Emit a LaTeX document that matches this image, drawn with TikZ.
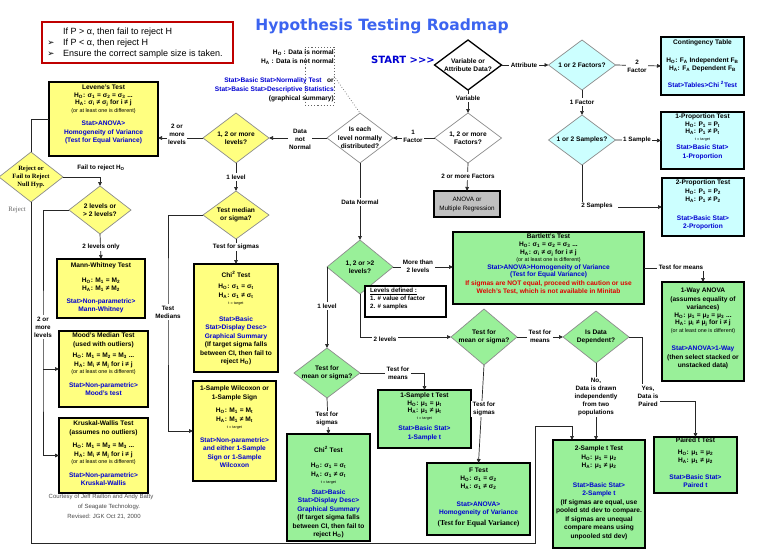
\documentclass[tikz,border=0pt]{standalone}
\usepackage{fontspec}
\setmainfont{Liberation Sans}
\newfontfamily\serifx{Liberation Serif}
\newfontfamily\djv{DejaVu Sans}
\usetikzlibrary{shapes.geometric,arrows.meta}
\definecolor{yel}{RGB}{255,255,128}
\definecolor{cya}{RGB}{204,255,255}
\definecolor{grn}{RGB}{153,240,153}
\definecolor{sblue}{RGB}{0,0,210}
\definecolor{tblue}{RGB}{60,100,240}
\definecolor{gbx}{RGB}{192,192,192}
\definecolor{rred}{RGB}{225,0,0}
\newcommand\stb[1]{\textcolor{sblue}{#1}}
\newcommand\rdt[1]{\textcolor{rred}{#1}}
\newcommand\smt[1]{{\fontsize{5.4}{6.5}\selectfont\mdseries #1}}
\newcommand\tgt{{\fontsize{3.8}{5}\selectfont\mdseries t = target}}
\newcommand\sbs[1]{\textsubscript{#1}}
\begin{document}
\begin{tikzpicture}[x=1pt,y=-1pt,
 txt/.style={font=\fontsize{6.6}{8.5}\selectfont\bfseries, align=center, inner sep=0pt},
 lab/.style={font=\fontsize{6.3}{8}\selectfont\bfseries, align=center, inner sep=1.5pt, fill=white},
 bx/.style={draw=black, line width=1.1pt, inner sep=0pt, outer sep=0pt, anchor=north west},
 dm/.style={diamond, draw=black!45, line width=0.7pt, inner sep=0pt, outer sep=0pt},
 conn/.style={draw=black!85, line width=0.7pt},
 arr/.style={conn, -{Triangle[length=4pt,width=3.6pt]}}]
\useasboundingbox (0,0) rectangle (768,549);
\fill[white] (0,0) rectangle (768,549);

% ---------- title and rule box ----------
\node[font=\djv\fontsize{15.5}{18}\selectfont\bfseries, text=tblue, inner sep=0pt] (title) at (382,26) {Hypothesis Testing Roadmap};
\node[bx, draw=rred!85!black, line width=1.5pt, minimum width=191, minimum height=41] (rule) at (42,22) {};
\node[anchor=west, inner sep=0pt, font=\fontsize{9}{10}\selectfont] (rule1) at (63,32) {If P > α, then fail to reject H};
\node[anchor=west, inner sep=0pt, font=\fontsize{9}{10}\selectfont] (rule2) at (63,43) {If P < α, then reject H};
\node[anchor=west, inner sep=0pt, font=\fontsize{9}{10}\selectfont] (rule3) at (63,54) {Ensure the correct sample size is taken.};
\node[inner sep=0pt, font=\djv\fontsize{8.5}{9}\selectfont] (bul2) at (51,43) {➢};
\node[inner sep=0pt, font=\djv\fontsize{8.5}{9}\selectfont] (bul3) at (51,54) {➢};
\node[inner sep=0pt, font=\djv\fontsize{10}{12}\selectfont\bfseries, text=sblue] (start) at (403,60) {START >>>};

% ---------- normality note ----------
\node[bx, draw=black!60, dotted, line width=0.6pt, minimum width=29, minimum height=58] (nbox) at (305,47) {};
\node[txt, align=right, anchor=north east, font=\fontsize{6.6}{9}\selectfont\bfseries] (nb1) at (334,50) {H\sbs{O} : Data is normal\\H\sbs{A} : Data is not normal};
\node[txt, align=right, anchor=north east, font=\fontsize{6.6}{9}\selectfont\bfseries] (nb2) at (334,78) {\stb{Stat>Basic Stat>Normality Test}~~ or\\\stb{Stat>Basic Stat>Descriptive Statistics}\\(graphical summary)};

% ---------- diamonds ----------
\node[dm, draw=black, line width=1.3pt, fill=white, minimum width=67, minimum height=50] (dvar) at (468,65) {};
\node[txt] (dvart) at (dvar) {Variable or\\Attribute Data?};
\node[dm, fill=cya, minimum width=67, minimum height=50] (d12f) at (582,65) {};
\node[txt] (d12ft) at (d12f) {1 or 2 Factors?};
\node[dm, fill=cya, minimum width=67, minimum height=50] (d12s) at (582,140) {};
\node[txt] (d12st) at (d12s) {1 or 2 Samples?};
\node[dm, fill=white, minimum width=67, minimum height=50] (dfac) at (468,138) {};
\node[txt] (dfact) at (dfac) {1, 2 or more\\Factors?};
\node[dm, fill=white, minimum width=66, minimum height=50] (dnorm) at (360,138) {};
\node[txt] (dnormt) at (dnorm) {Is each\\level normally\\distributed?};
\node[dm, fill=yel, minimum width=66, minimum height=50] (d12l) at (236,138) {};
\node[txt] (d12lt) at (d12l) {1, 2 or more\\levels?};
\node[dm, fill=yel, minimum width=64, minimum height=50] (drej) at (31,177) {};
\node[txt, font=\serifx\fontsize{6.5}{8}\selectfont\bfseries] (drejt) at (drej) {Reject or\\Fail to Reject\\Null Hyp.};
\node[dm, fill=yel, minimum width=62, minimum height=48] (d2l) at (100,210) {};
\node[txt] (d2lt) at (d2l) {2 levels or\\> 2 levels?};
\node[dm, fill=yel, minimum width=66, minimum height=48] (dtm) at (236,215) {};
\node[txt] (dtmt) at (dtm) {Test median\\or sigma?};
\node[dm, fill=grn, minimum width=66, minimum height=54] (dlv) at (360,267) {};
\node[txt] (dlvt) at (dlv) {1, 2 or >2\\levels?};
\node[dm, fill=grn, minimum width=66, minimum height=56] (dmsm) at (484,337) {};
\node[txt] (dmsmt) at (dmsm) {Test for\\mean or sigma?};
\node[dm, fill=grn, minimum width=66, minimum height=52] (ddep) at (596,337) {};
\node[txt] (ddept) at (ddep) {Is Data\\Dependent?};
\node[dm, fill=grn, minimum width=66, minimum height=50] (dmsl) at (327,373) {};
\node[txt] (dmslt) at (dmsl) {Test for\\mean or sigma?};

% ---------- boxes ----------
\node[bx, fill=cya, minimum width=83, minimum height=58] (cont) at (661,37) {};
\node[txt, anchor=north] (contt) at (702.5,40) {Contingency Table\\[9pt]H\sbs{O}: F\sbs{A} Independent F\sbs{B}\\H\sbs{A}: F\sbs{A} Dependent F\sbs{B}\\[8pt]\stb{Stat>Tables>Chi \textsuperscript{2}Test}};
\node[bx, fill=cya, minimum width=83, minimum height=57] (p1) at (661,112) {};
\node[txt, anchor=north] (p1t) at (702.5,114) {1-Proportion Test\\[-1pt]H\sbs{O}: P\sbs{1} = P\sbs{t}\\[-1pt]H\sbs{A}: P\sbs{1} ≠ P\sbs{t}\\[-2pt]\tgt\\[1pt]\stb{Stat>Basic Stat>}\\\stb{1-Proportion}};
\node[bx, fill=cya, minimum width=82, minimum height=58] (p2) at (662,178) {};
\node[txt, anchor=north] (p2t) at (703,180) {2-Proportion Test\\H\sbs{O}: P\sbs{1} = P\sbs{2}\\H\sbs{A}: P\sbs{1} ≠ P\sbs{2}\\[10pt]\stb{Stat>Basic Stat>}\\\stb{2-Proportion}};
\node[bx, fill=gbx, minimum width=66, minimum height=26] (anova) at (434,191) {};
\node[txt, font=\fontsize{6.3}{9}\selectfont] (anovat) at (anova) {ANOVA or\\Multiple Regression};

\node[bx, fill=yel, minimum width=109, minimum height=74] (lev) at (49,82) {};
\node[txt, anchor=north] (levt) at (103.5,85) {Levene's Test\\[-1pt]H\sbs{O}: σ\sbs{1} = σ\sbs{2} = σ\sbs{3} ...\\[-1pt]H\sbs{A}: σ\sbs{i} ≠ σ\sbs{j} for i ≠ j\\[-1pt]\smt{(or at least one is different)}\\[5pt]\stb{Stat>ANOVA>}\\\stb{Homogeneity of Variance}\\\stb{(Test for Equal Variance)}};
\node[bx, fill=yel, minimum width=88, minimum height=59] (mw) at (57,259) {};
\node[txt, anchor=north] (mwt) at (101,263) {Mann-Whitney Test\\[6pt]H\sbs{O}: M\sbs{1} = M\sbs{2}\\H\sbs{A}: M\sbs{1} ≠ M\sbs{2}\\[4pt]\stb{Stat>Non-parametric>}\\\stb{Mann-Whitney}};
\node[bx, fill=yel, minimum width=89, minimum height=76] (mood) at (59,331) {};
\node[txt, anchor=north] (moodt) at (103.5,333) {Mood's Median Test\\(used with outliers)\\[3pt]H\sbs{O}: M\sbs{1} = M\sbs{2} = M\sbs{3} ...\\H\sbs{A}: M\sbs{i} ≠ M\sbs{j} for i ≠ j\\[-1pt]\smt{(or at least one is different)}\\[5pt]\stb{Stat>Non-parametric>}\\\stb{Mood's test}};
\node[bx, fill=yel, minimum width=89, minimum height=75] (kw) at (59,418) {};
\node[txt, anchor=north] (kwt) at (103.5,421) {Kruskal-Wallis Test\\(assumes no outliers)\\[5pt]H\sbs{O}: M\sbs{1} = M\sbs{2} = M\sbs{3} ...\\H\sbs{A}: M\sbs{i} ≠ M\sbs{j} for i ≠ j\\[-1pt]\smt{(or at least one is different)}\\[5pt]\stb{Stat>Non-parametric>}\\\stb{Kruskal-Wallis}};
\node[bx, fill=yel, minimum width=84, minimum height=108] (chiy) at (194,264) {};
\node[txt, anchor=north] (chiyt) at (236,271) {Chi\textsuperscript{2} Test\\[3pt]H\sbs{O}: σ\sbs{1} = σ\sbs{t}\\H\sbs{A}: σ\sbs{1} ≠ σ\sbs{t}\\[-1pt]\tgt\\[8pt]\stb{Stat>Basic}\\\stb{Stat>Display Desc>}\\\stb{Graphical Summary}\\(If target sigma falls\\between CI, then fail to\\reject H\sbs{O})};
\node[bx, fill=yel, minimum width=83, minimum height=100] (wil) at (193,381) {};
\node[txt, anchor=north] (wilt) at (234.5,386) {1-Sample Wilcoxon or\\1-Sample Sign\\[5pt]H\sbs{O}: M\sbs{1} = M\sbs{t}\\H\sbs{A}: M\sbs{1} ≠ M\sbs{t}\\[-1pt]\tgt\\[5pt]\stb{Stat>Non-parametric>}\\\stb{and either 1-Sample}\\\stb{Sign or 1-Sample}\\\stb{Wilcoxon}};

\node[bx, fill=grn, minimum width=191, minimum height=72] (bart) at (453,232) {};
\node[txt, anchor=north, font=\fontsize{6.6}{7.8}\selectfont\bfseries] (bartt) at (548.5,234) {Bartlett's Test\\H\sbs{O}: σ\sbs{1} = σ\sbs{2} = σ\sbs{3} ...\\H\sbs{A}: σ\sbs{i} ≠ σ\sbs{j} for i ≠ j\\[-1pt]\smt{(or at least one is different)}\\\stb{Stat>ANOVA>Homogeneity of Variance}\\\stb{(Test for Equal Variance)}\\[1pt]\rdt{If sigmas are NOT equal, proceed with caution or use}\\\rdt{Welch's Test, which is not available in Minitab}};
\node[bx, fill=grn, minimum width=82, minimum height=99] (anova1) at (662,282) {};
\node[txt, anchor=north] (anova1t) at (703,288) {1-Way ANOVA\\(assumes equality of\\variances)\\[-1pt]H\sbs{O}: μ\sbs{1} = μ\sbs{2} = μ\sbs{3} ...\\[-1pt]H\sbs{A}: μ\sbs{i} ≠ μ\sbs{j} for i ≠ j\\[-1pt]\smt{(or at least one is different)}\\[10pt]\stb{Stat>ANOVA>1-Way}\\(then select stacked or\\unstacked data)};
\node[bx, fill=white, line width=1.3pt, minimum width=81, minimum height=31] (lvl) at (365,286) {};
\node[txt, align=left, anchor=north west, font=\fontsize{6.2}{8}\selectfont\bfseries] (lvlt) at (370,288) {\underline{Levels defined :}\\1. \# value of factor\\2. \# samples};
\node[bx, fill=grn, minimum width=93, minimum height=58] (t1) at (378,390) {};
\node[txt, anchor=north, font=\fontsize{6.6}{7.5}\selectfont\bfseries] (t1t) at (424.5,393) {1-Sample t Test\\H\sbs{O}: μ\sbs{1} = μ\sbs{t}\\H\sbs{A}: μ\sbs{1} ≠ μ\sbs{t}\\[-1pt]\tgt\\[4pt]\stb{Stat>Basic Stat>}\\[1pt]\stb{1-Sample t}};
\node[bx, fill=grn, minimum width=83, minimum height=107] (chig) at (287,434) {};
\node[txt, anchor=north] (chigt) at (328.5,446) {Chi\textsuperscript{2} Test\\[7pt]H\sbs{O}: σ\sbs{1} = σ\sbs{t}\\H\sbs{A}: σ\sbs{1} ≠ σ\sbs{t}\\[-1pt]\tgt\\[2pt]\stb{Stat>Basic}\\\stb{Stat>Display Desc>}\\\stb{Graphical Summary}\\(If target sigma falls\\between CI, then fail to\\reject H\sbs{O})};
\node[bx, fill=grn, minimum width=103, minimum height=72] (ftest) at (427,463) {};
\node[txt, anchor=north, font=\fontsize{6.6}{8}\selectfont\bfseries] (ftestt) at (478.5,468) {F Test\\H\sbs{O}: σ\sbs{1} = σ\sbs{2}\\H\sbs{A}: σ\sbs{1} ≠ σ\sbs{2}\\[10pt]\stb{Stat>ANOVA>}\\\stb{Homogeneity of Variance}\\[3pt]{\serifx\fontsize{7.6}{8}\selectfont (Test for Equal Variance)}};
\node[bx, fill=grn, minimum width=92, minimum height=108] (t2) at (553,440) {};
\node[txt, anchor=north] (t2t) at (599,446) {2-Sample t Test\\H\sbs{O}: μ\sbs{1} = μ\sbs{2}\\H\sbs{A}: μ\sbs{1} ≠ μ\sbs{2}\\[11pt]\stb{Stat>Basic Stat>}\\\stb{2-Sample t}\\(If sigmas are equal, use\\pooled std dev to compare.\\If sigmas are unequal\\compare means using\\unpooled std dev)};
\node[bx, fill=grn, minimum width=83, minimum height=56] (paired) at (654,437) {};
\node[txt, anchor=north] (pairedt) at (695.5,438) {Paired t Test\\[3pt]H\sbs{O}: μ\sbs{1} = μ\sbs{2}\\H\sbs{A}: μ\sbs{1} ≠ μ\sbs{2}\\[8pt]\stb{Stat>Basic Stat>}\\\stb{Paired t}};

% ---------- credits ----------
\node[inner sep=0pt, text=black!70, font=\fontsize{6}{7}\selectfont] (cr1) at (101,497) {Courtesy of Jeff Railton and Andy Batty};
\node[inner sep=0pt, text=black!70, font=\fontsize{6}{7}\selectfont] (cr2) at (109,507) {of Seagate Technology.};
\node[inner sep=0pt, text=black!70, font=\fontsize{6}{7}\selectfont] (cr3) at (104,517) {Revised: JGK Oct 21, 2000};

% ---------- connector helper coordinates ----------
\coordinate (rjA) at (535,543);
\coordinate (rjB) at (572,426);
\coordinate (lv2) at (43,369);
\coordinate (tm1) at (168,300);
\coordinate (pd1) at (642,337);
\coordinate (pd2) at (642,401);

% ---------- connectors ----------
\draw[arr] (dvar.east) -- (d12f.west);
\draw[arr] (d12f.east) -- (cont.west);
\draw[arr] (d12f.south) -- (d12s.north);
\draw[arr] (d12s.east) -- (p1.west);
\draw[arr] (d12s.south) |- (p2.west);
\draw[arr] (dvar.south) -- (dfac.north);
\draw[arr] (dfac.west) -- (dnorm.east);
\draw[arr] (dfac.south) -- (anova.north);
\draw[arr] (dnorm.west) -- (d12l.east);
\draw[arr] (d12l.west) -- (d12l.west -| lev.east);
\draw[conn] (lev.west) -| (drej.north);
\draw[arr] (drej.east) -| (d2l.north);
\draw[arr] (drej.south) |- (rjA) |- (rjB) -- (rjB |- t2.north);
\draw[arr] (d2l.south) -- (mw.north);
\draw[arr] (d2l.west) -| (lv2) |- (kw.west);
\draw[arr] (lv2) -- (mood.west);
\draw[arr] (d12l.south) -- (dtm.north);
\draw[arr] (dtm.south) -- (chiy.north);
\draw[arr] (dtm.west) -| (tm1) |- (wil.west);
\draw[arr] (dnorm.south) -- (dlv.north);
\draw[arr] (dlv.east) -- (dlv.east -| bart.west);
\draw[arr] (bart.east) -| (anova1.north);
\draw[arr] (dlv.west) -- (dmsl.north);
\draw[arr] (dlv.south) |- (dmsm.west);
\draw[arr] (dmsm.east) -- (ddep.west);
\draw[arr] (dmsm.south) -- (ftest.north);
\draw[arr] (ddep.south) -- (ddep.south |- t2.north);
\draw[arr] (ddep.east) -- (pd1) -- (pd2) -| (paired.north);
\draw[arr] (dmsl.east) -| (t1.north);
\draw[arr] (dmsl.south) -- (chig.north);
\draw[black!60, dotted, line width=0.7pt] (nbox.east) -- (dnorm.north);

% ---------- connector labels ----------
\node[lab] (lAttr) at (524,65) {Attribute};
\node[lab] (l2F) at (637,66) {2\\Factor};
\node[lab] (l1F) at (582,102) {1 Factor};
\node[lab] (l1S) at (637,140) {1 Sample};
\node[lab, inner xsep=5pt] (l2S) at (597,206) {2 Samples};
\node[lab] (lVar) at (468,98) {Variable};
\node[lab] (l1Fb) at (413,136) {1\\Factor};
\node[lab] (l2mF) at (468,176) {2 or more Factors};
\node[lab] (lDnN) at (300,139) {Data\\not\\Normal};
\node[lab] (l2ml) at (177,134) {2 or\\more\\levels};
\node[inner sep=0pt, font=\fontsize{6.3}{8}\selectfont\bfseries] (lFail) at (101,168) {Fail to reject H\sbs{O}};
\node[inner sep=0pt, text=black!60, font=\serifx\fontsize{6.8}{8}\selectfont] (lRej) at (17,210) {Reject};
\node[lab] (l2lo) at (101,247) {2 levels only};
\node[lab] (l2ml2) at (43,327) {2 or\\more\\levels};
\node[lab] (l1l) at (236,177) {1 level};
\node[lab] (lTfs) at (236,247) {Test for sigmas};
\node[lab] (lTM) at (168,312) {Test\\Medians};
\node[lab] (lDN) at (360,202) {Data Normal};
\node[lab] (lMt2) at (418,266) {More than\\2 levels};
\node[lab] (lTfm) at (681,267) {Test for means};
\node[lab] (l1l2) at (327,306) {1 level};
\node[lab] (l2l) at (385,339) {2 levels};
\node[lab] (lTfm2) at (540,336) {Test for\\means};
\node[lab] (lTfs2) at (484,409) {Test for\\sigmas};
\node[lab] (lNo) at (596,397) {No,\\Data is drawn\\independently\\from two\\populations};
\node[lab] (lYes) at (648,396) {Yes,\\Data is\\Paired};
\node[lab] (lTfm3) at (398,373) {Test for\\means};
\node[lab] (lTfs3) at (327,419) {Test for\\sigmas};
\end{tikzpicture}
\end{document}
